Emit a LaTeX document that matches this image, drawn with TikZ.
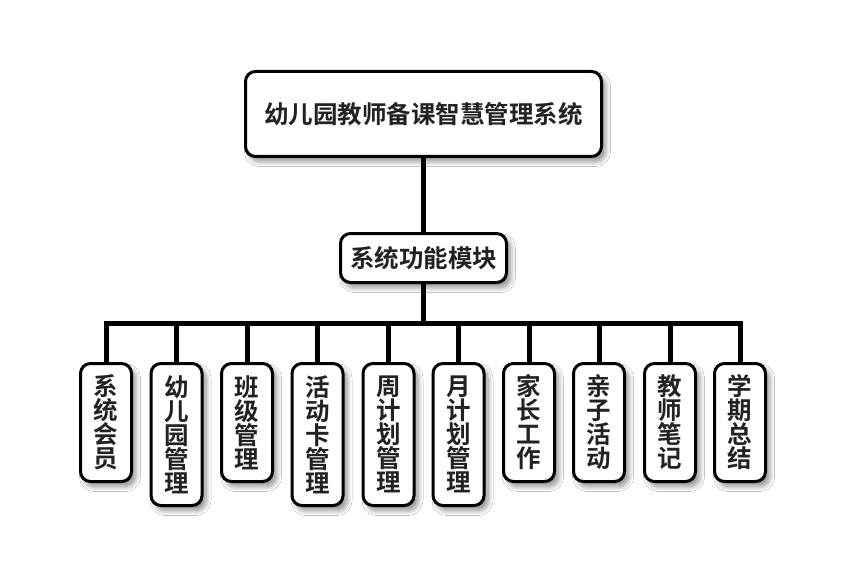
\documentclass[tikz,border=0pt]{standalone}
\usepackage{fontspec}
\setmainfont{Noto Sans CJK SC}[BoldFont={Noto Sans CJK SC Bold}]
\usetikzlibrary{shadows.blur}
\definecolor{txt}{HTML}{222222}
\tikzset{
  box/.style={draw=black, line width=3pt, fill=white, rounded corners=10pt,
    text=txt, inner sep=0pt, align=center,
    font={\fontsize{24.5pt}{24pt}\selectfont\bfseries},
    blur shadow={shadow xshift=4pt, shadow yshift=-5pt, shadow blur radius=5pt, shadow blur steps=10, shadow opacity=45}},
  leaf/.style={box, minimum width=51pt},
  conn/.style={line width=5pt, black},
}
\begin{document}
\begin{tikzpicture}[x=1pt,y=-1pt]
\fill[white] (0,0) rectangle (846,583);
\useasboundingbox (0,0) rectangle (846,583);
\node[box, minimum width=356pt, minimum height=85pt] (root) at (423.5,114) {幼儿园教师备课智慧管理系统};
\node[box, minimum width=166pt, minimum height=49pt] (mid) at (423.5,258) {系统功能模块};
\coordinate (bus) at (423.5,323);
\node[leaf, minimum height=118pt] (c1) at (106,422.5) {系\\统\\会\\员};
\node[leaf, minimum height=142pt] (c2) at (176.5,434.5) {幼\\儿\\园\\管\\理};
\node[leaf, minimum height=118pt] (c3) at (247,422.5) {班\\级\\管\\理};
\node[leaf, minimum height=142pt] (c4) at (317.5,434.5) {活\\动\\卡\\管\\理};
\node[leaf, minimum height=142pt] (c5) at (388.5,434.5) {周\\计\\划\\管\\理};
\node[leaf, minimum height=142pt] (c6) at (458.5,434.5) {月\\计\\划\\管\\理};
\node[leaf, minimum height=118pt] (c7) at (529,422.5) {家\\长\\工\\作};
\node[leaf, minimum height=118pt] (c8) at (599,422.5) {亲\\子\\活\\动};
\node[leaf, minimum height=118pt] (c9) at (670,422.5) {教\\师\\笔\\记};
\node[leaf, minimum height=118pt] (c10) at (740,422.5) {学\\期\\总\\结};
\draw[conn] (root.south) -- (mid.north);
\foreach \c in {c1,c2,c3,c4,c5,c6,c7,c8,c9,c10}{
  \draw[conn] (mid.south) -- (bus) -| (\c.north);
}
\end{tikzpicture}
\end{document}
